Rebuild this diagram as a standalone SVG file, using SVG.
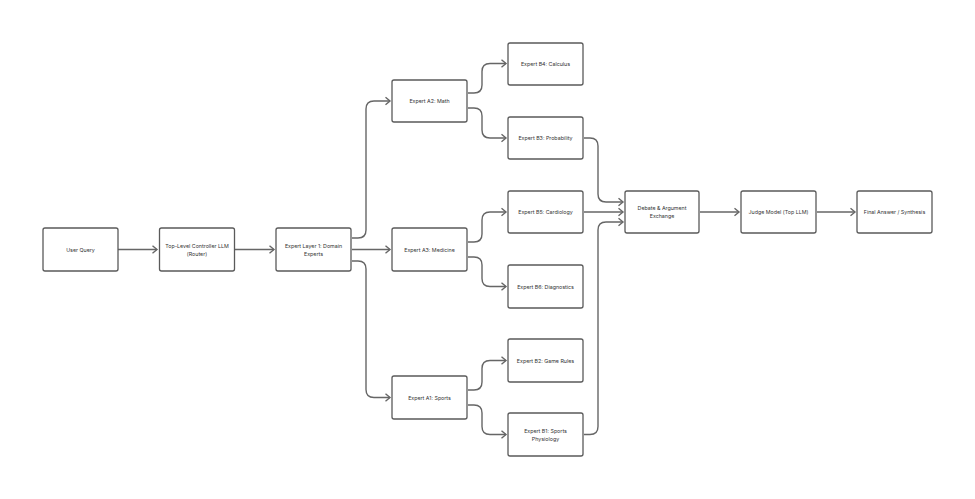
<svg xmlns="http://www.w3.org/2000/svg" width="975" height="499" viewBox="0 0 975 499">
<style>
.box{fill:#fff;stroke:#5a5a5a;stroke-width:1.3}
.t{font-family:Inter,"Liberation Sans",sans-serif;font-size:5.3px;fill:#333;text-anchor:middle;dominant-baseline:central}
.c{fill:none;stroke:#666;stroke-width:1.4;marker-end:url(#arr)}
</style>
<defs>
<marker id="arr" markerUnits="userSpaceOnUse" markerWidth="10" markerHeight="10" refX="6" refY="5" orient="auto">
<path d="M1.5,1.3 L6,5 L1.5,8.7" fill="none" stroke="#666" stroke-width="1.4"/>
</marker>
</defs>
<rect width="975" height="499" fill="#fff"/>
<g id="connectors">
<path class="c" d="M118,249.5 H157"/>
<path class="c" d="M235,249.5 H274"/>
<path class="c" d="M352,238 H358 Q366,238 366,230 V109 Q366,101 374,101 H390"/>
<path class="c" d="M352,249.5 H390"/>
<path class="c" d="M352,261 H358 Q366,261 366,269 V389.5 Q366,397.5 374,397.5 H390"/>
<path class="c" d="M468,93 H474 Q482,93 482,85 V71.5 Q482,63.5 490,63.5 H506"/>
<path class="c" d="M468,108 H474 Q482,108 482,116 V130 Q482,138 490,138 H506"/>
<path class="c" d="M468,242 H474 Q482,242 482,234 V220 Q482,212 490,212 H506"/>
<path class="c" d="M468,257 H474 Q482,257 482,265 V278.5 Q482,286.5 490,286.5 H506"/>
<path class="c" d="M468,390 H474 Q482,390 482,382 V368.5 Q482,360.5 490,360.5 H506"/>
<path class="c" d="M468,405 H474 Q482,405 482,413 V426.5 Q482,434.5 490,434.5 H506"/>
<path class="c" d="M584,138 H590 Q598,138 598,146 V194 Q598,202 606,202 H623"/>
<path class="c" d="M584,212 H623"/>
<path class="c" d="M584,434.5 H590 Q598,434.5 598,426.5 V230 Q598,222 606,222 H623"/>
<path class="c" d="M700,212 H739"/>
<path class="c" d="M817,212 H855"/>
</g>
<g id="user-query"><rect class="box" x="43" y="228" width="75" height="43" rx="2"/><text class="t" x="80.5" y="249.5">User Query</text></g>
<g id="controller"><rect class="box" x="159.5" y="228" width="75" height="43" rx="2"/><text class="t" x="197" y="245.5">Top-Level Controller LLM</text><text class="t" x="197" y="253.5">(Router)</text></g>
<g id="layer1"><rect class="box" x="276" y="228" width="75" height="43" rx="2"/><text class="t" x="313.5" y="245.5">Expert Layer 1: Domain</text><text class="t" x="313.5" y="253.5">Experts</text></g>
<g id="a2"><rect class="box" x="392" y="80" width="75" height="42" rx="2"/><text class="t" x="429.5" y="101">Expert A2: Math</text></g>
<g id="a3"><rect class="box" x="392" y="228" width="75" height="43" rx="2"/><text class="t" x="429.5" y="249.5">Expert A3: Medicine</text></g>
<g id="a1"><rect class="box" x="392" y="376" width="75" height="43" rx="2"/><text class="t" x="429.5" y="397.5">Expert A1: Sports</text></g>
<g id="b4"><rect class="box" x="508" y="43" width="75" height="42" rx="2"/><text class="t" x="545.5" y="64">Expert B4: Calculus</text></g>
<g id="b3"><rect class="box" x="508" y="117" width="75" height="42" rx="2"/><text class="t" x="545.5" y="138">Expert B3: Probability</text></g>
<g id="b5"><rect class="box" x="508" y="191" width="75" height="42" rx="2"/><text class="t" x="545.5" y="212">Expert B5: Cardiology</text></g>
<g id="b6"><rect class="box" x="508" y="265" width="75" height="43" rx="2"/><text class="t" x="545.5" y="286.5">Expert B6: Diagnostics</text></g>
<g id="b2"><rect class="box" x="508" y="339" width="75" height="43" rx="2"/><text class="t" x="545.5" y="360.5">Expert B2: Game Rules</text></g>
<g id="b1"><rect class="box" x="508" y="413" width="75" height="43" rx="2"/><text class="t" x="545.5" y="430.5">Expert B1: Sports</text><text class="t" x="545.5" y="438.5">Physiology</text></g>
<g id="debate"><rect class="box" x="625" y="191" width="74" height="42" rx="2"/><text class="t" x="662" y="208">Debate &amp; Argument</text><text class="t" x="662" y="216">Exchange</text></g>
<g id="judge"><rect class="box" x="741" y="191" width="75" height="42" rx="2"/><text class="t" x="778.5" y="212">Judge Model (Top LLM)</text></g>
<g id="final"><rect class="box" x="857" y="191" width="75" height="42" rx="2"/><text class="t" x="894.5" y="212">Final Answer / Synthesis</text></g>
</svg>
